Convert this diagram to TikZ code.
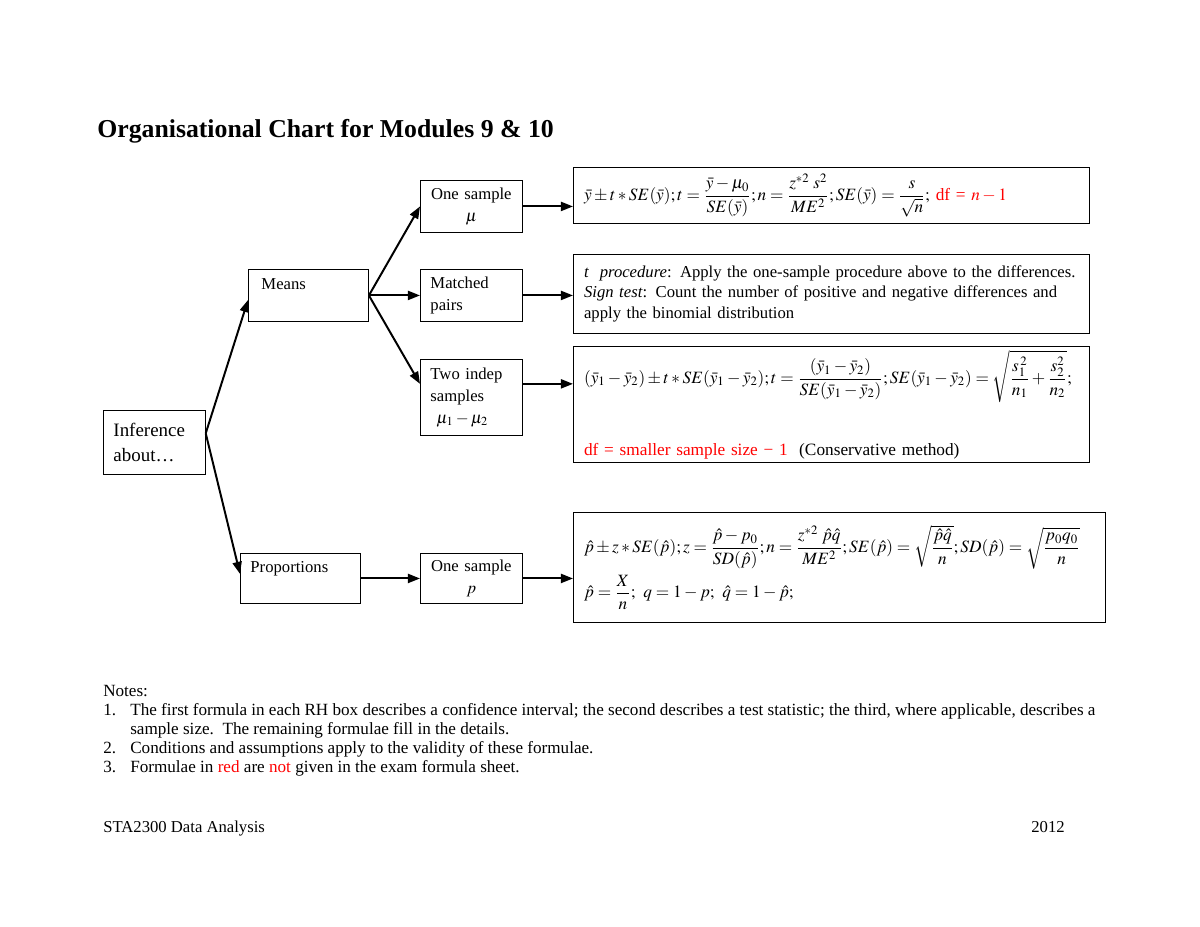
\documentclass[tikz,border=0pt]{standalone}
\usepackage{amsmath}
\usepackage{mathptmx}
\usepackage[no-math]{fontspec}
\setmainfont{Liberation Serif}
\usepackage{xcolor}
\usetikzlibrary{arrows.meta}

\begin{document}
\begin{tikzpicture}[
  x=0.66pt,y=-0.66pt,
  every node/.style={inner sep=0pt},
  catbox/.style={draw,line width=0.6pt,anchor=north west,inner xsep=6.6pt,
                 align=left,font=\fontsize{11}{14.5}\selectfont},
  formbox/.style={draw,line width=0.6pt,anchor=north west,inner xsep=7pt,
                  align=left,font=\fontsize{11.4}{13.5}\selectfont},
  arr/.style={-{Triangle[length=8pt,width=6pt]},line width=1.3pt},
  notetxt/.style={anchor=base west,font=\fontsize{11.3}{12.5}\selectfont}
]
\useasboundingbox (0,0) rectangle (1200,927);

% Title
\node[anchor=base west,font=\fontsize{17}{20}\selectfont\bfseries] (Title) at (97,137)
  {Organisational Chart for Modules 9 \& 10};

% Left-hand tree
\node[catbox,text width=54pt,minimum height=42.2pt,font=\fontsize{12.5}{16}\selectfont]
  (Infer) at (103,410) {Inference\\about\ldots};
\node[catbox,inner xsep=8.6pt,text width=62pt,minimum height=34.3pt] (Means) at (248,269) {Means\\\mbox{}};
\node[catbox,text width=66pt,minimum height=33pt] (Props) at (240,553) {Proportions\\\mbox{}};

% Second column
\node[catbox,align=center,text width=54pt,minimum height=34.3pt] (OneMu) at (420,180) {One sample\\$\mu$};
\node[catbox,text width=54pt,minimum height=34.3pt] (Matched) at (420,269) {Matched\\pairs};
\node[catbox,text width=54pt,minimum height=50.2pt] (TwoIndep) at (420,359)
  {Two indep\\samples\\\hspace*{4pt}$\mu_1-\mu_2$};
\node[catbox,align=center,text width=54pt,minimum height=33pt] (OneP) at (420,553) {One sample\\$p$};

% Formula boxes
\node[formbox,text width=326.6pt,minimum height=37pt] (F1) at (573,167)
  {\mbox{$\bar{y}\pm t*SE(\bar{y}); t=\dfrac{\bar{y}-\mu_0}{SE(\bar{y})}; n=\dfrac{z^{*2}\;s^2}{ME^2}; SE(\bar{y})=\dfrac{s}{\sqrt{n}};$ \textcolor{red}{df = $n-1$}}};
\node[formbox,text width=326.6pt,minimum height=52.1pt,font=\fontsize{11}{13.5}\selectfont] (F2) at (573,254)
  {\textit{t\ \ procedure}: Apply the one-sample procedure above to the differences.\\
   \textit{Sign test}: Count the number of positive and negative differences and\\
   apply the binomial distribution};
\node[formbox,text width=326.6pt,inner ysep=2.3pt] (F3) at (573,346)
  {\mbox{$(\bar{y}_1-\bar{y}_2)\pm t*SE(\bar{y}_1-\bar{y}_2); t=\dfrac{(\bar{y}_1-\bar{y}_2)}{SE(\bar{y}_1-\bar{y}_2)}; SE(\bar{y}_1-\bar{y}_2)=\sqrt{\dfrac{s_1^{\,2}}{n_1}+\dfrac{s_2^2}{n_2}};$}\\[26pt]
   \textcolor{red}{df = smaller sample size − 1}\ \ (Conservative method)};
\node[formbox,text width=337pt,minimum height=72.6pt] (F4) at (573,512)
  {\mbox{$\hat{p}\pm z*SE(\hat{p}); z=\dfrac{\hat{p}-p_0}{SD(\hat{p})}; n=\dfrac{z^{*2}\;\hat{p}\hat{q}}{ME^2}; SE(\hat{p})=\sqrt{\dfrac{\hat{p}\hat{q}}{n}}; SD(\hat{p})=\sqrt{\dfrac{p_0q_0}{n}}$}\\[3pt]
   \mbox{$\hat{p}=\dfrac{X}{n};\ q=1-p;\ \hat{q}=1-\hat{p};$}};

% Connectors
\draw[arr] ([yshift=6pt]Infer.east) -- ([yshift=-3pt]Means.west);
\draw[arr] ([yshift=6pt]Infer.east) -- ([yshift=3pt]Props.west);
\draw[arr] (Means.east) -- (OneMu.west);
\draw[arr] (Means.east) -- (Matched.west);
\draw[arr] (Means.east) -- ([yshift=9pt]TwoIndep.west);
\draw[arr] (Props.east) -- (Props.east -| OneP.west);
\draw[arr] (OneMu.east) -- (OneMu.east -| F1.west);
\draw[arr] (Matched.east) -- (Matched.east -| F2.west);
\draw[arr] ([yshift=9pt]TwoIndep.east) -- ([yshift=9pt]TwoIndep.east -| F3.west);
\draw[arr] (OneP.east) -- (OneP.east -| F4.west);

% Notes
\node[notetxt] (Notes) at (103,696) {Notes:};
\node[notetxt] (N1) at (103,715) {1.};
\node[notetxt] (N1a) at (130,715) {\makebox[637pt][s]{The first formula in each RH box describes a confidence interval; the second describes a test statistic; the third, where applicable, describes a}};
\node[notetxt] (N1b) at (130,734) {sample size.\ \ The remaining formulae fill in the details.};
\node[notetxt] (N2) at (103,753) {2.};
\node[notetxt] (N2a) at (130,753) {Conditions and assumptions apply to the validity of these formulae.};
\node[notetxt] (N3) at (103,772) {3.};
\node[notetxt] (N3a) at (130,772) {Formulae in \textcolor{red}{red} are \textcolor{red}{not} given in the exam formula sheet.};

% Footer
\node[notetxt,font=\fontsize{11}{12.5}\selectfont] (Course) at (103,832) {STA2300 Data Analysis};
\node[notetxt,font=\fontsize{11}{12.5}\selectfont,anchor=base east] (Year) at (1065,832) {2012};
\end{tikzpicture}
\end{document}
